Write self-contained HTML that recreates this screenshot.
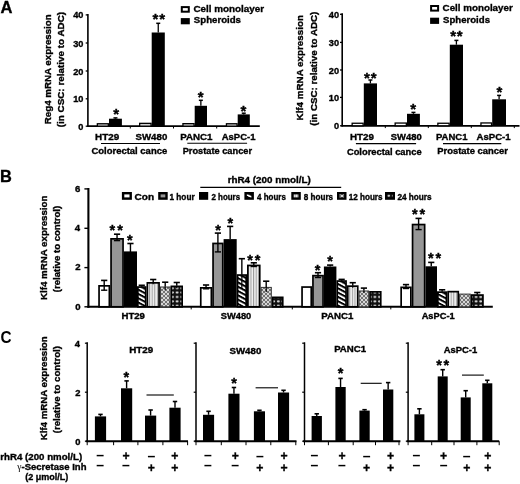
<!DOCTYPE html><html><head><meta charset="utf-8"><title>Figure</title><style>html,body{margin:0;padding:0;background:#fff;overflow:hidden;}svg{display:block;}text{font-family:"Liberation Sans",sans-serif;font-weight:bold;fill:#000;stroke:#000;stroke-width:0.35px;}.ns{stroke:none;}.sym{stroke:none;font-family:"Liberation Serif","DejaVu Serif",serif;font-weight:normal;}</style></head><body>
<svg width="520" height="484" viewBox="0 0 520 484">
<defs><pattern id="p4" patternUnits="userSpaceOnUse" width="8" height="4.3" patternTransform="skewY(28)"><rect width="8" height="4.3" fill="#fff"/><rect y="0" width="8" height="2.2" fill="#000"/></pattern><pattern id="p8" patternUnits="userSpaceOnUse" width="2.6" height="3"><rect width="2.6" height="3" fill="#f2f2f2"/><rect x="1" width="0.9" height="3" fill="#8f8f8f"/></pattern><pattern id="p12" patternUnits="userSpaceOnUse" width="4" height="4"><rect width="4" height="4" fill="#d6d6d6"/><path d="M0 0L2 2L4 0M0 4L2 2L4 4" stroke="#5a5a5a" stroke-width="0.8" fill="none"/></pattern><pattern id="p24" patternUnits="userSpaceOnUse" width="4.6" height="4.4"><rect width="4.6" height="4.4" fill="#111"/><ellipse cx="2.3" cy="2.2" rx="1.5" ry="1.0" fill="#ddd"/></pattern></defs>
<rect width="520" height="484" fill="#fff"/>
<text x="0.59" y="12.8" font-size="16.9" textLength="11.95" lengthAdjust="spacingAndGlyphs">A</text>
<text x="-0.1" y="182" font-size="17.3" textLength="11.84" lengthAdjust="spacingAndGlyphs">B</text>
<text x="0.57" y="342.6" font-size="16" textLength="11.05" lengthAdjust="spacingAndGlyphs" class="ns">C</text>
<line x1="87.9" y1="13.9" x2="87.9" y2="127" stroke="#000" stroke-width="1.6"/>
<line x1="85.7" y1="126.2" x2="87.9" y2="126.2" stroke="#000" stroke-width="1.3"/>
<text x="83.38" y="129.76" font-size="9.2" text-anchor="end">0</text>
<line x1="85.7" y1="98.8" x2="87.9" y2="98.8" stroke="#000" stroke-width="1.3"/>
<text x="83.38" y="102.36" font-size="9.2" text-anchor="end">10</text>
<line x1="85.7" y1="71" x2="87.9" y2="71" stroke="#000" stroke-width="1.3"/>
<text x="83.38" y="74.56" font-size="9.2" text-anchor="end">20</text>
<line x1="85.7" y1="43" x2="87.9" y2="43" stroke="#000" stroke-width="1.3"/>
<text x="83.38" y="46.56" font-size="9.2" text-anchor="end">30</text>
<line x1="85.7" y1="14.9" x2="87.9" y2="14.9" stroke="#000" stroke-width="1.3"/>
<text x="83.38" y="18.46" font-size="9.2" text-anchor="end">40</text>
<line x1="87.1" y1="126.2" x2="259.8" y2="126.2" stroke="#000" stroke-width="1.7"/>
<line x1="130.3" y1="126.2" x2="130.3" y2="128.5" stroke="#000" stroke-width="1"/>
<line x1="173.5" y1="126.2" x2="173.5" y2="128.5" stroke="#000" stroke-width="1"/>
<line x1="216.7" y1="126.2" x2="216.7" y2="128.5" stroke="#000" stroke-width="1"/>
<rect x="109" y="118.7" width="12.9" height="7.5" fill="#000"/>
<line x1="115.45" y1="118.7" x2="115.45" y2="117.9" stroke="#000" stroke-width="1.3"/>
<line x1="113.45" y1="117.9" x2="117.45" y2="117.9" stroke="#000" stroke-width="1.5"/>
<rect x="97.35" y="123.75" width="11" height="2.45" fill="#cfcfcf" stroke="#000" stroke-width="1.3"/>
<text x="116.1" y="119.12" font-size="15" text-anchor="middle">*</text>
<rect x="151.7" y="32.5" width="13.1" height="93.7" fill="#000"/>
<line x1="158.25" y1="32.5" x2="158.25" y2="23.3" stroke="#000" stroke-width="1.3"/>
<line x1="156.25" y1="23.3" x2="160.25" y2="23.3" stroke="#000" stroke-width="1.5"/>
<rect x="139.65" y="123.35" width="11.4" height="2.85" fill="#cfcfcf" stroke="#000" stroke-width="1.3"/>
<text x="155.35" y="23.92" font-size="15" text-anchor="middle">*</text>
<text x="162.05" y="23.92" font-size="15" text-anchor="middle">*</text>
<rect x="194.7" y="105.8" width="12.3" height="20.4" fill="#000"/>
<line x1="200.85" y1="105.8" x2="200.85" y2="100.3" stroke="#000" stroke-width="1.3"/>
<line x1="198.85" y1="100.3" x2="202.85" y2="100.3" stroke="#000" stroke-width="1.5"/>
<rect x="182.95" y="123.65" width="11.1" height="2.55" fill="#cfcfcf" stroke="#000" stroke-width="1.3"/>
<text x="200.7" y="102.32" font-size="15" text-anchor="middle">*</text>
<rect x="237.7" y="114.4" width="12.1" height="11.8" fill="#000"/>
<line x1="243.75" y1="114.4" x2="243.75" y2="113.2" stroke="#000" stroke-width="1.3"/>
<line x1="241.75" y1="113.2" x2="245.75" y2="113.2" stroke="#000" stroke-width="1.5"/>
<rect x="226.45" y="123.75" width="10.6" height="2.45" fill="#cfcfcf" stroke="#000" stroke-width="1.3"/>
<text x="243.5" y="115.52" font-size="15" text-anchor="middle">*</text>
<line x1="342.2" y1="13.3" x2="342.2" y2="126.6" stroke="#000" stroke-width="1.6"/>
<line x1="340" y1="125.8" x2="342.2" y2="125.8" stroke="#000" stroke-width="1.3"/>
<text x="339.08" y="129.36" font-size="9.2" text-anchor="end">0</text>
<line x1="340" y1="97.4" x2="342.2" y2="97.4" stroke="#000" stroke-width="1.3"/>
<text x="339.08" y="100.96" font-size="9.2" text-anchor="end">10</text>
<line x1="340" y1="70" x2="342.2" y2="70" stroke="#000" stroke-width="1.3"/>
<text x="339.08" y="73.56" font-size="9.2" text-anchor="end">20</text>
<line x1="340" y1="42.4" x2="342.2" y2="42.4" stroke="#000" stroke-width="1.3"/>
<text x="339.08" y="45.96" font-size="9.2" text-anchor="end">30</text>
<line x1="340" y1="14.3" x2="342.2" y2="14.3" stroke="#000" stroke-width="1.3"/>
<text x="339.08" y="17.86" font-size="9.2" text-anchor="end">40</text>
<line x1="341.4" y1="125.8" x2="519.5" y2="125.8" stroke="#000" stroke-width="1.7"/>
<line x1="385.3" y1="125.8" x2="385.3" y2="128.1" stroke="#000" stroke-width="1"/>
<line x1="428.3" y1="125.8" x2="428.3" y2="128.1" stroke="#000" stroke-width="1"/>
<line x1="471.3" y1="125.8" x2="471.3" y2="128.1" stroke="#000" stroke-width="1"/>
<line x1="514.3" y1="125.8" x2="514.3" y2="128.1" stroke="#000" stroke-width="1"/>
<rect x="363.8" y="83.4" width="13.2" height="42.4" fill="#000"/>
<line x1="370.4" y1="83.4" x2="370.4" y2="80" stroke="#000" stroke-width="1.3"/>
<line x1="368.4" y1="80" x2="372.4" y2="80" stroke="#000" stroke-width="1.5"/>
<rect x="352.15" y="123.25" width="11" height="2.55" fill="#fff" stroke="#000" stroke-width="1.3"/>
<text x="366.95" y="82.82" font-size="15" text-anchor="middle">*</text>
<text x="373.65" y="82.82" font-size="15" text-anchor="middle">*</text>
<rect x="407" y="113.8" width="12.9" height="12" fill="#000"/>
<line x1="413.45" y1="113.8" x2="413.45" y2="112.4" stroke="#000" stroke-width="1.3"/>
<line x1="411.45" y1="112.4" x2="415.45" y2="112.4" stroke="#000" stroke-width="1.5"/>
<rect x="395.15" y="123.05" width="11.2" height="2.75" fill="#fff" stroke="#000" stroke-width="1.3"/>
<text x="413.2" y="114.32" font-size="15" text-anchor="middle">*</text>
<rect x="449.8" y="44.7" width="13.2" height="81.1" fill="#000"/>
<line x1="456.4" y1="44.7" x2="456.4" y2="40.4" stroke="#000" stroke-width="1.3"/>
<line x1="454.4" y1="40.4" x2="458.4" y2="40.4" stroke="#000" stroke-width="1.5"/>
<rect x="437.85" y="123.25" width="11.3" height="2.55" fill="#fff" stroke="#000" stroke-width="1.3"/>
<text x="453.05" y="41.32" font-size="15" text-anchor="middle">*</text>
<text x="459.75" y="41.32" font-size="15" text-anchor="middle">*</text>
<rect x="492.2" y="99.3" width="13.8" height="26.5" fill="#000"/>
<line x1="499.1" y1="99.3" x2="499.1" y2="95.4" stroke="#000" stroke-width="1.3"/>
<line x1="497.1" y1="95.4" x2="501.1" y2="95.4" stroke="#000" stroke-width="1.5"/>
<rect x="480.95" y="122.95" width="10.6" height="2.85" fill="#fff" stroke="#000" stroke-width="1.3"/>
<text x="499.3" y="97.42" font-size="15" text-anchor="middle">*</text>
<text x="0" y="0" font-size="9.7" textLength="109.85" lengthAdjust="spacingAndGlyphs" transform="translate(51.2 124.15) rotate(-90)">Reg4 mRNA expression</text>
<text x="0" y="0" font-size="9.7" textLength="115.38" lengthAdjust="spacingAndGlyphs" transform="translate(64.4 127.29) rotate(-90)">(in CSC: relative to ADC)</text>
<text x="0" y="0" font-size="9.7" textLength="105.36" lengthAdjust="spacingAndGlyphs" transform="translate(303.3 120.45) rotate(-90)">Klf4 mRNA expression</text>
<text x="0" y="0" font-size="9.7" textLength="113.97" lengthAdjust="spacingAndGlyphs" transform="translate(316.8 125.68) rotate(-90)">(in CSC: relative to ADC)</text>
<rect x="181.8" y="7.1" width="7" height="4.6" fill="#fff" stroke="#000" stroke-width="2"/>
<rect x="180.8" y="18.1" width="9" height="6.2" fill="#000"/>
<text x="193.4" y="12.1" font-size="9.9" textLength="70.75" lengthAdjust="spacingAndGlyphs">Cell monolayer</text>
<text x="193.82" y="23.4" font-size="9.9" textLength="47.17" lengthAdjust="spacingAndGlyphs">Spheroids</text>
<rect x="431.1" y="6" width="7" height="4.6" fill="#fff" stroke="#000" stroke-width="2"/>
<rect x="430.1" y="17.7" width="9" height="6.2" fill="#000"/>
<text x="442.6" y="11" font-size="9.9" textLength="70.15" lengthAdjust="spacingAndGlyphs">Cell monolayer</text>
<text x="443.02" y="22.7" font-size="9.9" textLength="46.97" lengthAdjust="spacingAndGlyphs">Spheroids</text>
<text x="95.14" y="139.6" font-size="9.6" textLength="24.13" lengthAdjust="spacingAndGlyphs">HT29</text>
<text x="135.52" y="139.6" font-size="9.6" textLength="31.78" lengthAdjust="spacingAndGlyphs">SW480</text>
<text x="180.16" y="139.6" font-size="9.6" textLength="32.41" lengthAdjust="spacingAndGlyphs">PANC1</text>
<text x="221.76" y="139.6" font-size="9.6" textLength="33.7" lengthAdjust="spacingAndGlyphs">AsPC-1</text>
<text x="350.04" y="139.8" font-size="9.6" textLength="24.02" lengthAdjust="spacingAndGlyphs">HT29</text>
<text x="390.73" y="139.8" font-size="9.6" textLength="30.96" lengthAdjust="spacingAndGlyphs">SW480</text>
<text x="435.98" y="139.8" font-size="9.6" textLength="31.48" lengthAdjust="spacingAndGlyphs">PANC1</text>
<text x="476.46" y="139.8" font-size="9.6" textLength="34.21" lengthAdjust="spacingAndGlyphs">AsPC-1</text>
<line x1="101" y1="143.5" x2="160" y2="143.5" stroke="#000" stroke-width="1.1"/>
<line x1="187.3" y1="143.3" x2="247.1" y2="143.3" stroke="#000" stroke-width="1.1"/>
<line x1="355.9" y1="143.6" x2="416.1" y2="143.6" stroke="#000" stroke-width="1.1"/>
<line x1="443" y1="143.6" x2="501.3" y2="143.6" stroke="#000" stroke-width="1.1"/>
<text x="91.41" y="154.2" font-size="9.6" textLength="75.81" lengthAdjust="spacingAndGlyphs">Colorectal cance</text>
<text x="182.68" y="153.8" font-size="9.6" textLength="69.36" lengthAdjust="spacingAndGlyphs">Prostate cancer</text>
<text x="346.92" y="154.8" font-size="9.6" textLength="74.7" lengthAdjust="spacingAndGlyphs">Colorectal cance</text>
<text x="437.17" y="154" font-size="9.6" textLength="70.87" lengthAdjust="spacingAndGlyphs">Prostate cancer</text>
<line x1="88.4" y1="188" x2="88.4" y2="307.8" stroke="#000" stroke-width="2.1"/>
<line x1="84.4" y1="306.8" x2="88.4" y2="306.8" stroke="#000" stroke-width="1.4"/>
<text x="80.49" y="309.5" font-size="9.6" text-anchor="end">0</text>
<line x1="84.4" y1="267.6" x2="88.4" y2="267.6" stroke="#000" stroke-width="1.4"/>
<text x="80.48" y="270.3" font-size="9.6" text-anchor="end">2</text>
<line x1="84.4" y1="228.3" x2="88.4" y2="228.3" stroke="#000" stroke-width="1.4"/>
<text x="80.15" y="231" font-size="9.6" text-anchor="end">4</text>
<line x1="84.4" y1="188.9" x2="88.4" y2="188.9" stroke="#000" stroke-width="1.4"/>
<text x="80.45" y="191.6" font-size="9.6" text-anchor="end">6</text>
<line x1="87.4" y1="306.8" x2="492.8" y2="306.8" stroke="#000" stroke-width="1.9"/>
<line x1="191.2" y1="306.8" x2="191.2" y2="309.4" stroke="#000" stroke-width="1"/>
<line x1="292.3" y1="306.8" x2="292.3" y2="309.4" stroke="#000" stroke-width="1"/>
<line x1="390.8" y1="306.8" x2="390.8" y2="309.4" stroke="#000" stroke-width="1"/>
<rect x="99.05" y="285.85" width="10.3" height="20.95" fill="#fff" stroke="#000" stroke-width="1.7"/>
<line x1="104.2" y1="280.4" x2="104.2" y2="290.2" stroke="#000" stroke-width="1.4"/>
<line x1="101.1" y1="280.4" x2="107.3" y2="280.4" stroke="#000" stroke-width="1.6"/>
<line x1="101.1" y1="290.2" x2="107.3" y2="290.2" stroke="#000" stroke-width="1.4"/>
<rect x="111.05" y="238.85" width="12" height="67.95" fill="#969696" stroke="#000" stroke-width="1.7"/>
<line x1="117.05" y1="234.2" x2="117.05" y2="240.6" stroke="#000" stroke-width="1.4"/>
<line x1="113.95" y1="234.2" x2="120.15" y2="234.2" stroke="#000" stroke-width="1.6"/>
<line x1="113.95" y1="240.6" x2="120.15" y2="240.6" stroke="#000" stroke-width="1.4"/>
<rect x="123.9" y="251.4" width="13.1" height="55.4" fill="#000"/>
<line x1="130.45" y1="243.5" x2="130.45" y2="258.8" stroke="#000" stroke-width="1.4"/>
<line x1="127.35" y1="243.5" x2="133.55" y2="243.5" stroke="#000" stroke-width="1.6"/>
<line x1="127.35" y1="258.8" x2="133.55" y2="258.8" stroke="#000" stroke-width="1.4"/>
<rect x="137.85" y="287.05" width="7.8" height="19.75" fill="url(#p4)" stroke="#000" stroke-width="1.7"/>
<line x1="141.75" y1="286.2" x2="141.75" y2="287.01" stroke="#000" stroke-width="1.2"/>
<line x1="141.75" y1="285.3" x2="141.75" y2="286.2" stroke="#000" stroke-width="1.4"/>
<line x1="138.65" y1="285.3" x2="144.85" y2="285.3" stroke="#000" stroke-width="1.6"/>
<rect x="147.35" y="282.85" width="11.7" height="23.95" fill="url(#p8)" stroke="#000" stroke-width="1.7"/>
<line x1="153.2" y1="282" x2="153.2" y2="284.25" stroke="#000" stroke-width="1.2"/>
<line x1="153.2" y1="279.5" x2="153.2" y2="282" stroke="#000" stroke-width="1.4"/>
<line x1="150.1" y1="279.5" x2="156.3" y2="279.5" stroke="#000" stroke-width="1.6"/>
<rect x="160.4" y="287" width="9.6" height="19.8" fill="url(#p12)" stroke="#333" stroke-width="1"/>
<line x1="165.2" y1="286.5" x2="165.2" y2="290.37" stroke="#000" stroke-width="1.2"/>
<line x1="165.2" y1="282.2" x2="165.2" y2="286.5" stroke="#000" stroke-width="1.4"/>
<line x1="162.1" y1="282.2" x2="168.3" y2="282.2" stroke="#000" stroke-width="1.6"/>
<rect x="171.35" y="286.35" width="10.8" height="20.45" fill="url(#p24)" stroke="#000" stroke-width="1.7"/>
<line x1="176.75" y1="285.5" x2="176.75" y2="288.2" stroke="#000" stroke-width="1.2"/>
<line x1="176.75" y1="282.5" x2="176.75" y2="285.5" stroke="#000" stroke-width="1.4"/>
<line x1="173.65" y1="282.5" x2="179.85" y2="282.5" stroke="#000" stroke-width="1.6"/>
<text x="112.4" y="235.48" font-size="14.5" text-anchor="middle">*</text>
<text x="120" y="235.48" font-size="14.5" text-anchor="middle">*</text>
<text x="129.8" y="244.98" font-size="14.5" text-anchor="middle">*</text>
<rect x="200.75" y="287.85" width="10.6" height="18.95" fill="#fff" stroke="#000" stroke-width="1.7"/>
<line x1="206.05" y1="285" x2="206.05" y2="288.8" stroke="#000" stroke-width="1.4"/>
<line x1="202.95" y1="285" x2="209.15" y2="285" stroke="#000" stroke-width="1.6"/>
<line x1="202.95" y1="288.8" x2="209.15" y2="288.8" stroke="#000" stroke-width="1.4"/>
<rect x="213.05" y="243.45" width="9.7" height="63.35" fill="#969696" stroke="#000" stroke-width="1.7"/>
<line x1="217.9" y1="233.1" x2="217.9" y2="251.9" stroke="#000" stroke-width="1.4"/>
<line x1="214.8" y1="233.1" x2="221" y2="233.1" stroke="#000" stroke-width="1.6"/>
<line x1="214.8" y1="251.9" x2="221" y2="251.9" stroke="#000" stroke-width="1.4"/>
<rect x="223.6" y="239.1" width="13.1" height="67.7" fill="#000"/>
<line x1="230.15" y1="226.4" x2="230.15" y2="239.1" stroke="#000" stroke-width="1.4"/>
<line x1="227.05" y1="226.4" x2="233.25" y2="226.4" stroke="#000" stroke-width="1.6"/>
<rect x="237.55" y="275.05" width="8.6" height="31.75" fill="url(#p4)" stroke="#000" stroke-width="1.7"/>
<line x1="241.85" y1="274.2" x2="241.85" y2="288.15" stroke="#000" stroke-width="1.2"/>
<line x1="241.85" y1="258.7" x2="241.85" y2="274.2" stroke="#000" stroke-width="1.4"/>
<line x1="238.75" y1="258.7" x2="244.95" y2="258.7" stroke="#000" stroke-width="1.6"/>
<rect x="247.85" y="265.45" width="11.9" height="41.35" fill="url(#p8)" stroke="#000" stroke-width="1.7"/>
<line x1="253.8" y1="262.8" x2="253.8" y2="266.5" stroke="#000" stroke-width="1.4"/>
<line x1="250.7" y1="262.8" x2="256.9" y2="262.8" stroke="#000" stroke-width="1.6"/>
<line x1="250.7" y1="266.5" x2="256.9" y2="266.5" stroke="#000" stroke-width="1.4"/>
<rect x="261.1" y="287.4" width="10.2" height="19.4" fill="url(#p12)" stroke="#333" stroke-width="1"/>
<line x1="266.2" y1="286.9" x2="266.2" y2="292.03" stroke="#000" stroke-width="1.2"/>
<line x1="266.2" y1="281.2" x2="266.2" y2="286.9" stroke="#000" stroke-width="1.4"/>
<line x1="263.1" y1="281.2" x2="269.3" y2="281.2" stroke="#000" stroke-width="1.6"/>
<rect x="272.65" y="297.35" width="10.1" height="9.45" fill="url(#p24)" stroke="#000" stroke-width="1.7"/>
<text x="218" y="234.68" font-size="14.5" text-anchor="middle">*</text>
<text x="230.4" y="227.98" font-size="14.5" text-anchor="middle">*</text>
<text x="250" y="265.08" font-size="14.5" text-anchor="middle">*</text>
<text x="257.6" y="265.08" font-size="14.5" text-anchor="middle">*</text>
<rect x="302.05" y="287.05" width="9.2" height="19.75" fill="#fff" stroke="#000" stroke-width="1.7"/>
<rect x="312.95" y="275.65" width="10.1" height="31.15" fill="#969696" stroke="#000" stroke-width="1.7"/>
<line x1="318" y1="272.7" x2="318" y2="277.5" stroke="#000" stroke-width="1.4"/>
<line x1="314.9" y1="272.7" x2="321.1" y2="272.7" stroke="#000" stroke-width="1.6"/>
<line x1="314.9" y1="277.5" x2="321.1" y2="277.5" stroke="#000" stroke-width="1.4"/>
<rect x="323.9" y="266.5" width="12.5" height="40.3" fill="#000"/>
<line x1="330.15" y1="265.1" x2="330.15" y2="266.5" stroke="#000" stroke-width="1.4"/>
<line x1="327.05" y1="265.1" x2="333.25" y2="265.1" stroke="#000" stroke-width="1.6"/>
<rect x="337.25" y="281.05" width="8.8" height="25.75" fill="url(#p4)" stroke="#000" stroke-width="1.7"/>
<line x1="341.65" y1="280.2" x2="341.65" y2="280.92" stroke="#000" stroke-width="1.2"/>
<line x1="341.65" y1="279.4" x2="341.65" y2="280.2" stroke="#000" stroke-width="1.4"/>
<line x1="338.55" y1="279.4" x2="344.75" y2="279.4" stroke="#000" stroke-width="1.6"/>
<rect x="347.75" y="286.15" width="10" height="20.65" fill="url(#p8)" stroke="#000" stroke-width="1.7"/>
<line x1="352.75" y1="285.3" x2="352.75" y2="287.64" stroke="#000" stroke-width="1.2"/>
<line x1="352.75" y1="282.7" x2="352.75" y2="285.3" stroke="#000" stroke-width="1.4"/>
<line x1="349.65" y1="282.7" x2="355.85" y2="282.7" stroke="#000" stroke-width="1.6"/>
<rect x="359.1" y="291" width="9.6" height="15.8" fill="url(#p12)" stroke="#333" stroke-width="1"/>
<line x1="363.9" y1="290.5" x2="363.9" y2="292.66" stroke="#000" stroke-width="1.2"/>
<line x1="363.9" y1="288.1" x2="363.9" y2="290.5" stroke="#000" stroke-width="1.4"/>
<line x1="360.8" y1="288.1" x2="367" y2="288.1" stroke="#000" stroke-width="1.6"/>
<rect x="370.05" y="291.85" width="10.7" height="14.95" fill="url(#p24)" stroke="#000" stroke-width="1.7"/>
<text x="317.7" y="274.98" font-size="14.5" text-anchor="middle">*</text>
<text x="330" y="265.68" font-size="14.5" text-anchor="middle">*</text>
<rect x="401.15" y="287.35" width="9.7" height="19.45" fill="#fff" stroke="#000" stroke-width="1.7"/>
<line x1="406" y1="284.6" x2="406" y2="288.5" stroke="#000" stroke-width="1.4"/>
<line x1="402.9" y1="284.6" x2="409.1" y2="284.6" stroke="#000" stroke-width="1.6"/>
<line x1="402.9" y1="288.5" x2="409.1" y2="288.5" stroke="#000" stroke-width="1.4"/>
<rect x="412.55" y="224.55" width="12.1" height="82.25" fill="#969696" stroke="#000" stroke-width="1.7"/>
<line x1="418.6" y1="218.4" x2="418.6" y2="229.6" stroke="#000" stroke-width="1.4"/>
<line x1="415.5" y1="218.4" x2="421.7" y2="218.4" stroke="#000" stroke-width="1.6"/>
<line x1="415.5" y1="229.6" x2="421.7" y2="229.6" stroke="#000" stroke-width="1.4"/>
<rect x="425.5" y="266.3" width="11.5" height="40.5" fill="#000"/>
<line x1="431.25" y1="262.4" x2="431.25" y2="266.3" stroke="#000" stroke-width="1.4"/>
<line x1="428.15" y1="262.4" x2="434.35" y2="262.4" stroke="#000" stroke-width="1.6"/>
<rect x="437.85" y="292.15" width="8.6" height="14.65" fill="url(#p4)" stroke="#000" stroke-width="1.7"/>
<line x1="442.15" y1="291.3" x2="442.15" y2="292.65" stroke="#000" stroke-width="1.2"/>
<line x1="442.15" y1="289.8" x2="442.15" y2="291.3" stroke="#000" stroke-width="1.4"/>
<line x1="439.05" y1="289.8" x2="445.25" y2="289.8" stroke="#000" stroke-width="1.6"/>
<rect x="448.15" y="291.65" width="10.1" height="15.15" fill="url(#p8)" stroke="#000" stroke-width="1.7"/>
<rect x="459.6" y="294.1" width="10.6" height="12.7" fill="url(#p12)" stroke="#333" stroke-width="1"/>
<rect x="471.55" y="295.05" width="11.4" height="11.75" fill="url(#p24)" stroke="#000" stroke-width="1.7"/>
<line x1="477.25" y1="294.2" x2="477.25" y2="295.73" stroke="#000" stroke-width="1.2"/>
<line x1="477.25" y1="292.5" x2="477.25" y2="294.2" stroke="#000" stroke-width="1.4"/>
<line x1="474.15" y1="292.5" x2="480.35" y2="292.5" stroke="#000" stroke-width="1.6"/>
<text x="414.8" y="219.38" font-size="14.5" text-anchor="middle">*</text>
<text x="422.4" y="219.38" font-size="14.5" text-anchor="middle">*</text>
<text x="430.8" y="262.58" font-size="14.5" text-anchor="middle">*</text>
<text x="438.4" y="262.58" font-size="14.5" text-anchor="middle">*</text>
<text x="121.46" y="319.3" font-size="9.4" textLength="23.5" lengthAdjust="spacingAndGlyphs">HT29</text>
<text x="220.83" y="319.3" font-size="9.4" textLength="30.45" lengthAdjust="spacingAndGlyphs">SW480</text>
<text x="321.27" y="319.3" font-size="9.4" textLength="32.1" lengthAdjust="spacingAndGlyphs">PANC1</text>
<text x="421.67" y="319.3" font-size="9.4" textLength="32.99" lengthAdjust="spacingAndGlyphs">AsPC-1</text>
<text x="227.65" y="182.5" font-size="9.4" textLength="83.04" lengthAdjust="spacingAndGlyphs">rhR4 (200 nmol/L)</text>
<line x1="200.3" y1="187.3" x2="341.2" y2="187.3" stroke="#000" stroke-width="1.2"/>
<rect x="123.1" y="193.2" width="7.6" height="5.4" fill="#fff" stroke="#000" stroke-width="2.4"/>
<text x="134.59" y="199.5" font-size="8.7" textLength="19.54" lengthAdjust="spacingAndGlyphs">Con</text>
<rect x="159.4" y="193.2" width="7.1" height="5.4" fill="#969696" stroke="#000" stroke-width="2.4"/>
<text x="169.48" y="199.5" font-size="8.7" textLength="25.14" lengthAdjust="spacingAndGlyphs">1 hour</text>
<rect x="200.2" y="193.2" width="6.8" height="5.4" fill="#000" stroke="#000" stroke-width="2.4"/>
<text x="211.53" y="199.5" font-size="8.7" textLength="28.6" lengthAdjust="spacingAndGlyphs">2 hours</text>
<rect x="245.6" y="193.2" width="7.1" height="5.4" fill="url(#p4)" stroke="#000" stroke-width="2.4"/>
<text x="257.08" y="199.5" font-size="8.7" textLength="28.75" lengthAdjust="spacingAndGlyphs">4 hours</text>
<rect x="292.5" y="193.2" width="7.1" height="5.4" fill="url(#p8)" stroke="#000" stroke-width="2.4"/>
<text x="303.84" y="199.5" font-size="8.7" textLength="29.29" lengthAdjust="spacingAndGlyphs">8 hours</text>
<rect x="338.2" y="193.2" width="7.1" height="5.4" fill="url(#p12)" stroke="#000" stroke-width="2.4"/>
<text x="348.69" y="199.5" font-size="8.7" textLength="33.84" lengthAdjust="spacingAndGlyphs">12 hours</text>
<rect x="386.2" y="193.2" width="7.6" height="5.4" fill="url(#p24)" stroke="#000" stroke-width="2.4"/>
<text x="397.42" y="199.5" font-size="8.7" textLength="34.12" lengthAdjust="spacingAndGlyphs">24 hours</text>
<text x="0" y="0" font-size="9.6" textLength="104.35" lengthAdjust="spacingAndGlyphs" transform="translate(47 299.95) rotate(-90)">Klf4 mRNA expression</text>
<text x="0" y="0" font-size="9.6" textLength="86.35" lengthAdjust="spacingAndGlyphs" transform="translate(59.6 292.17) rotate(-90)">(relative to control)</text>
<line x1="87.2" y1="342.3" x2="87.2" y2="442" stroke="#000" stroke-width="1.5"/>
<line x1="84.9" y1="441.2" x2="87.2" y2="441.2" stroke="#000" stroke-width="1.2"/>
<text x="80.39" y="444.73" font-size="9.4" text-anchor="end">0</text>
<line x1="84.9" y1="392.2" x2="87.2" y2="392.2" stroke="#000" stroke-width="1.2"/>
<text x="80.38" y="395.73" font-size="9.4" text-anchor="end">2</text>
<line x1="84.9" y1="343.2" x2="87.2" y2="343.2" stroke="#000" stroke-width="1.2"/>
<text x="80.05" y="346.73" font-size="9.4" text-anchor="end">4</text>
<line x1="85.8" y1="441.2" x2="188" y2="441.2" stroke="#000" stroke-width="2"/>
<line x1="87.2" y1="441.2" x2="87.2" y2="445.2" stroke="#000" stroke-width="1"/>
<line x1="113.6" y1="441.2" x2="113.6" y2="445.2" stroke="#000" stroke-width="1"/>
<line x1="137.9" y1="441.2" x2="137.9" y2="445.2" stroke="#000" stroke-width="1"/>
<line x1="162.9" y1="441.2" x2="162.9" y2="445.2" stroke="#000" stroke-width="1"/>
<line x1="187.6" y1="441.2" x2="187.6" y2="445.2" stroke="#000" stroke-width="1"/>
<rect x="94.9" y="416.4" width="11.2" height="24.8" fill="#000"/>
<line x1="100.5" y1="414.4" x2="100.5" y2="416.4" stroke="#000" stroke-width="1.4"/>
<line x1="98.3" y1="414.4" x2="102.7" y2="414.4" stroke="#000" stroke-width="1.6"/>
<rect x="121" y="388.3" width="11.2" height="52.9" fill="#000"/>
<line x1="126.6" y1="380.9" x2="126.6" y2="388.3" stroke="#000" stroke-width="1.4"/>
<line x1="124.4" y1="380.9" x2="128.8" y2="380.9" stroke="#000" stroke-width="1.6"/>
<rect x="145" y="415.6" width="11.2" height="25.6" fill="#000"/>
<line x1="150.6" y1="410" x2="150.6" y2="415.6" stroke="#000" stroke-width="1.4"/>
<line x1="148.4" y1="410" x2="152.8" y2="410" stroke="#000" stroke-width="1.6"/>
<rect x="169.4" y="407.7" width="11.2" height="33.5" fill="#000"/>
<line x1="175" y1="401.5" x2="175" y2="407.7" stroke="#000" stroke-width="1.4"/>
<line x1="172.8" y1="401.5" x2="177.2" y2="401.5" stroke="#000" stroke-width="1.6"/>
<text x="126.3" y="381.98" font-size="14.5" text-anchor="middle">*</text>
<text x="129.24" y="353.4" font-size="9.4" textLength="24.02" lengthAdjust="spacingAndGlyphs">HT29</text>
<line x1="146.5" y1="395" x2="173.8" y2="395" stroke="#000" stroke-width="1.1"/>
<text x="100.1" y="460.06" font-size="14" text-anchor="middle" class="ns">–</text>
<text x="100.1" y="470.16" font-size="14" text-anchor="middle" class="ns">–</text>
<text x="126" y="460.26" font-size="12.2" text-anchor="middle">+</text>
<text x="126" y="470.16" font-size="14" text-anchor="middle" class="ns">–</text>
<text x="151.4" y="461.26" font-size="14" text-anchor="middle" class="ns">–</text>
<text x="151.4" y="472.26" font-size="12.2" text-anchor="middle">+</text>
<text x="174.7" y="460.26" font-size="12.2" text-anchor="middle">+</text>
<text x="174.7" y="472.26" font-size="12.2" text-anchor="middle">+</text>
<line x1="196" y1="342.3" x2="196" y2="442" stroke="#000" stroke-width="1.5"/>
<line x1="193.7" y1="441.2" x2="196" y2="441.2" stroke="#000" stroke-width="1.2"/>
<line x1="193.7" y1="392.2" x2="196" y2="392.2" stroke="#000" stroke-width="1.2"/>
<line x1="193.7" y1="343.2" x2="196" y2="343.2" stroke="#000" stroke-width="1.2"/>
<line x1="194.6" y1="441.2" x2="296.5" y2="441.2" stroke="#000" stroke-width="2"/>
<line x1="196" y1="441.2" x2="196" y2="445.2" stroke="#000" stroke-width="1"/>
<line x1="221.3" y1="441.2" x2="221.3" y2="445.2" stroke="#000" stroke-width="1"/>
<line x1="246" y1="441.2" x2="246" y2="445.2" stroke="#000" stroke-width="1"/>
<line x1="270.8" y1="441.2" x2="270.8" y2="445.2" stroke="#000" stroke-width="1"/>
<line x1="295.8" y1="441.2" x2="295.8" y2="445.2" stroke="#000" stroke-width="1"/>
<rect x="203" y="414.8" width="11.1" height="26.4" fill="#000"/>
<line x1="208.55" y1="411.3" x2="208.55" y2="414.8" stroke="#000" stroke-width="1.4"/>
<line x1="206.35" y1="411.3" x2="210.75" y2="411.3" stroke="#000" stroke-width="1.6"/>
<rect x="228.4" y="393.7" width="11.1" height="47.5" fill="#000"/>
<line x1="233.95" y1="387.5" x2="233.95" y2="393.7" stroke="#000" stroke-width="1.4"/>
<line x1="231.75" y1="387.5" x2="236.15" y2="387.5" stroke="#000" stroke-width="1.6"/>
<rect x="253.9" y="411.3" width="11.1" height="29.9" fill="#000"/>
<line x1="259.45" y1="410.3" x2="259.45" y2="411.3" stroke="#000" stroke-width="1.4"/>
<line x1="257.25" y1="410.3" x2="261.65" y2="410.3" stroke="#000" stroke-width="1.6"/>
<rect x="278" y="392.5" width="11.1" height="48.7" fill="#000"/>
<line x1="283.55" y1="390.3" x2="283.55" y2="392.5" stroke="#000" stroke-width="1.4"/>
<line x1="281.35" y1="390.3" x2="285.75" y2="390.3" stroke="#000" stroke-width="1.6"/>
<text x="234" y="388.28" font-size="14.5" text-anchor="middle">*</text>
<text x="229.52" y="353.8" font-size="9.4" textLength="31.78" lengthAdjust="spacingAndGlyphs">SW480</text>
<line x1="255.6" y1="387.8" x2="278" y2="387.8" stroke="#000" stroke-width="1.1"/>
<text x="207.8" y="460.06" font-size="14" text-anchor="middle" class="ns">–</text>
<text x="207.8" y="470.16" font-size="14" text-anchor="middle" class="ns">–</text>
<text x="235.2" y="460.26" font-size="12.2" text-anchor="middle">+</text>
<text x="235.2" y="470.16" font-size="14" text-anchor="middle" class="ns">–</text>
<text x="259.8" y="461.26" font-size="14" text-anchor="middle" class="ns">–</text>
<text x="259.8" y="472.26" font-size="12.2" text-anchor="middle">+</text>
<text x="284" y="460.26" font-size="12.2" text-anchor="middle">+</text>
<text x="284" y="472.26" font-size="12.2" text-anchor="middle">+</text>
<line x1="304.5" y1="342.3" x2="304.5" y2="442" stroke="#000" stroke-width="1.5"/>
<line x1="302.2" y1="441.2" x2="304.5" y2="441.2" stroke="#000" stroke-width="1.2"/>
<line x1="302.2" y1="392.2" x2="304.5" y2="392.2" stroke="#000" stroke-width="1.2"/>
<line x1="302.2" y1="343.2" x2="304.5" y2="343.2" stroke="#000" stroke-width="1.2"/>
<line x1="303.1" y1="441.2" x2="400.4" y2="441.2" stroke="#000" stroke-width="2"/>
<line x1="304.5" y1="441.2" x2="304.5" y2="445.2" stroke="#000" stroke-width="1"/>
<line x1="328.4" y1="441.2" x2="328.4" y2="445.2" stroke="#000" stroke-width="1"/>
<line x1="353.2" y1="441.2" x2="353.2" y2="445.2" stroke="#000" stroke-width="1"/>
<line x1="375.5" y1="441.2" x2="375.5" y2="445.2" stroke="#000" stroke-width="1"/>
<line x1="399" y1="441.2" x2="399" y2="445.2" stroke="#000" stroke-width="1"/>
<rect x="311.6" y="416" width="10.3" height="25.2" fill="#000"/>
<line x1="316.75" y1="413.8" x2="316.75" y2="416" stroke="#000" stroke-width="1.4"/>
<line x1="314.55" y1="413.8" x2="318.95" y2="413.8" stroke="#000" stroke-width="1.6"/>
<rect x="335.4" y="387" width="10.3" height="54.2" fill="#000"/>
<line x1="340.55" y1="378.4" x2="340.55" y2="387" stroke="#000" stroke-width="1.4"/>
<line x1="338.35" y1="378.4" x2="342.75" y2="378.4" stroke="#000" stroke-width="1.6"/>
<rect x="359.4" y="410.6" width="10.3" height="30.6" fill="#000"/>
<line x1="364.55" y1="409.7" x2="364.55" y2="410.6" stroke="#000" stroke-width="1.4"/>
<line x1="362.35" y1="409.7" x2="366.75" y2="409.7" stroke="#000" stroke-width="1.6"/>
<rect x="383" y="389.5" width="10.3" height="51.7" fill="#000"/>
<line x1="388.15" y1="382.6" x2="388.15" y2="389.5" stroke="#000" stroke-width="1.4"/>
<line x1="385.95" y1="382.6" x2="390.35" y2="382.6" stroke="#000" stroke-width="1.6"/>
<text x="340.5" y="378.38" font-size="14.5" text-anchor="middle">*</text>
<text x="334.17" y="351.8" font-size="9.4" textLength="31.99" lengthAdjust="spacingAndGlyphs">PANC1</text>
<line x1="360.7" y1="383.3" x2="381.7" y2="383.3" stroke="#000" stroke-width="1.1"/>
<text x="314.4" y="460.06" font-size="14" text-anchor="middle" class="ns">–</text>
<text x="314.4" y="470.16" font-size="14" text-anchor="middle" class="ns">–</text>
<text x="342" y="460.26" font-size="12.2" text-anchor="middle">+</text>
<text x="342" y="470.16" font-size="14" text-anchor="middle" class="ns">–</text>
<text x="366.6" y="461.26" font-size="14" text-anchor="middle" class="ns">–</text>
<text x="366.6" y="472.26" font-size="12.2" text-anchor="middle">+</text>
<text x="390.6" y="460.26" font-size="12.2" text-anchor="middle">+</text>
<text x="390.6" y="472.26" font-size="12.2" text-anchor="middle">+</text>
<line x1="408.1" y1="342.3" x2="408.1" y2="442" stroke="#000" stroke-width="1.5"/>
<line x1="405.8" y1="441.2" x2="408.1" y2="441.2" stroke="#000" stroke-width="1.2"/>
<line x1="405.8" y1="392.2" x2="408.1" y2="392.2" stroke="#000" stroke-width="1.2"/>
<line x1="405.8" y1="343.2" x2="408.1" y2="343.2" stroke="#000" stroke-width="1.2"/>
<line x1="406.7" y1="441.2" x2="499.2" y2="441.2" stroke="#000" stroke-width="2"/>
<line x1="408.1" y1="441.2" x2="408.1" y2="445.2" stroke="#000" stroke-width="1"/>
<line x1="431.7" y1="441.2" x2="431.7" y2="445.2" stroke="#000" stroke-width="1"/>
<line x1="454" y1="441.2" x2="454" y2="445.2" stroke="#000" stroke-width="1"/>
<line x1="476.9" y1="441.2" x2="476.9" y2="445.2" stroke="#000" stroke-width="1"/>
<line x1="499.2" y1="441.2" x2="499.2" y2="445.2" stroke="#000" stroke-width="1"/>
<rect x="414.4" y="414.3" width="10" height="26.9" fill="#000"/>
<line x1="419.4" y1="408.8" x2="419.4" y2="414.3" stroke="#000" stroke-width="1.4"/>
<line x1="417.2" y1="408.8" x2="421.6" y2="408.8" stroke="#000" stroke-width="1.6"/>
<rect x="437.7" y="376.4" width="10" height="64.8" fill="#000"/>
<line x1="442.7" y1="369.7" x2="442.7" y2="376.4" stroke="#000" stroke-width="1.4"/>
<line x1="440.5" y1="369.7" x2="444.9" y2="369.7" stroke="#000" stroke-width="1.6"/>
<rect x="460.7" y="397.4" width="10" height="43.8" fill="#000"/>
<line x1="465.7" y1="390.7" x2="465.7" y2="397.4" stroke="#000" stroke-width="1.4"/>
<line x1="463.5" y1="390.7" x2="467.9" y2="390.7" stroke="#000" stroke-width="1.6"/>
<rect x="482.3" y="383.3" width="10" height="57.9" fill="#000"/>
<line x1="487.3" y1="380.3" x2="487.3" y2="383.3" stroke="#000" stroke-width="1.4"/>
<line x1="485.1" y1="380.3" x2="489.5" y2="380.3" stroke="#000" stroke-width="1.6"/>
<text x="439.15" y="369.78" font-size="14.5" text-anchor="middle">*</text>
<text x="446.25" y="369.78" font-size="14.5" text-anchor="middle">*</text>
<text x="443.66" y="353" font-size="9.4" textLength="33.6" lengthAdjust="spacingAndGlyphs">AsPC-1</text>
<line x1="462" y1="375.1" x2="483.8" y2="375.1" stroke="#000" stroke-width="1.1"/>
<text x="416.3" y="460.06" font-size="14" text-anchor="middle" class="ns">–</text>
<text x="416.3" y="470.16" font-size="14" text-anchor="middle" class="ns">–</text>
<text x="443.6" y="460.26" font-size="12.2" text-anchor="middle">+</text>
<text x="443.6" y="470.16" font-size="14" text-anchor="middle" class="ns">–</text>
<text x="466.7" y="461.26" font-size="14" text-anchor="middle" class="ns">–</text>
<text x="466.7" y="472.26" font-size="12.2" text-anchor="middle">+</text>
<text x="487.8" y="460.26" font-size="12.2" text-anchor="middle">+</text>
<text x="487.8" y="472.26" font-size="12.2" text-anchor="middle">+</text>
<text x="0" y="0" font-size="9.6" textLength="104.04" lengthAdjust="spacingAndGlyphs" transform="translate(47 440.35) rotate(-90)">Klf4 mRNA expression</text>
<text x="0" y="0" font-size="9.6" textLength="87.26" lengthAdjust="spacingAndGlyphs" transform="translate(59.7 433.28) rotate(-90)">(relative to control)</text>
<text x="0.26" y="459.6" font-size="9.6" textLength="81.92" lengthAdjust="spacingAndGlyphs">rhR4 (200 nmol/L)</text>
<text x="17.3" y="470.3" font-size="9.6" textLength="69.2" lengthAdjust="spacingAndGlyphs"><tspan class="sym">γ</tspan>-Secretase Inh</text>
<text x="25.15" y="479.6" font-size="9.6" textLength="43.1" lengthAdjust="spacingAndGlyphs">(2 μmol/L)</text>
</svg></body></html>
